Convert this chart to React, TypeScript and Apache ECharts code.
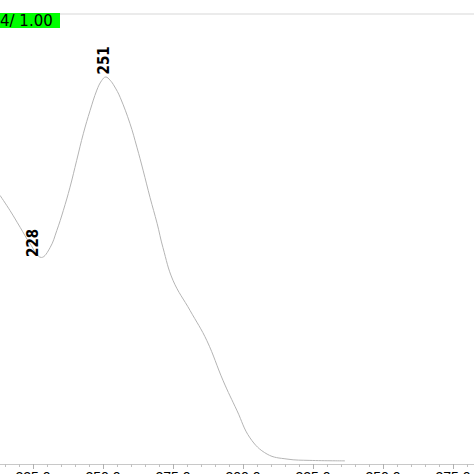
import { useEffect, useRef } from "react";
import * as echarts from "echarts";

// spectrum (nm / absorbance)
const wavelengths = [
  213.2, 216.8, 220.4, 223.9, 228.0, 231.1, 233.5, 235.8, 238.2, 240.6, 243.0,
  245.4, 247.8, 249.5, 251.0, 252.5, 254.0, 256.1, 259.6, 262.1, 264.3, 266.8,
  269.3, 271.4, 275.0, 281.1, 287.1, 292.9, 297.9, 302.5, 308.6, 315.7, 323.9,
  336.4,
];
const absorbance = [
  0.597, 0.563, 0.526, 0.49, 0.459, 0.481, 0.519, 0.563, 0.615, 0.675, 0.735,
  0.786, 0.831, 0.852, 0.86, 0.853, 0.84, 0.815, 0.757, 0.704, 0.653, 0.592,
  0.535, 0.481, 0.408, 0.341, 0.274, 0.185, 0.118, 0.058, 0.022, 0.011, 0.008,
  0.007,
];

const peakWavelengths = [251, 228];
const peakValues = [0.86, 0.459];

const majorTicks = [225, 250, 275, 300, 325, 350, 375];
const minorTicks = [
  215, 220, 230, 235, 240, 245, 255, 260, 265, 270, 280, 285, 290, 295, 305,
  310, 315, 320, 330, 335, 340, 345, 355, 360, 365, 370, 380,
];

const headerText = "4/ 1.00";

const App = () => {
  const containerRef = useRef<HTMLDivElement>(null);

  useEffect(() => {
    document.body.style.margin = "0";
    if (!containerRef.current) return;
    const chart = echarts.init(containerRef.current, undefined, { renderer: "svg" });

    // rotated peak labels (read bottom to top)
    const labelStyle = {
      show: true,
      rotate: 90,
      align: "left",
      verticalAlign: "middle",
      color: "#000",
      fontSize: 15,
      fontWeight: "bold",
      fontFamily: "'Liberation Sans Narrow', 'DejaVu Sans Condensed', sans-serif",
      formatter: (p: any) => String(p.name),
    };

    chart.setOption({
      animation: false,
      grid: { left: 0, right: 0, top: 14, bottom: 10, outerBoundsMode: "none", containLabel: false },
      xAxis: [
        {
          type: "value",
          min: 213.2,
          max: 382.5,
          axisLine: { show: true, lineStyle: { color: "#c8c8c8", width: 1 } },
          axisTick: { customValues: majorTicks, length: 5, lineStyle: { color: "#b0b0b0" } },
          axisLabel: {
            customValues: majorTicks,
            margin: 6,
            color: "#000",
            fontSize: 14,
            fontFamily: "'Liberation Sans', Arial, sans-serif",
            formatter: (v: number) => v.toFixed(1),
          },
          splitLine: { show: false },
        },
        {
          // minor ticks only
          type: "value",
          min: 213.2,
          max: 382.5,
          position: "bottom",
          axisLine: { show: false },
          axisTick: { customValues: minorTicks, length: 3, lineStyle: { color: "#c0c0c0" } },
          axisLabel: { show: false },
          splitLine: { show: false },
        },
      ],
      yAxis: { type: "value", min: 0, max: 1, show: false },
      graphic: [
        {
          type: "line",
          shape: { x1: 0, y1: 14, x2: 474, y2: 14 },
          style: { stroke: "#e4e4e4", lineWidth: 1.5 },
        },
        {
          type: "rect",
          shape: { x: 0, y: 13, width: 60, height: 15 },
          style: { fill: "#00ff00" },
        },
        {
          type: "text",
          x: 0,
          y: 21,
          style: {
            text: headerText,
            fill: "#000",
            fontSize: 15,
            fontFamily: "'DejaVu Sans', sans-serif",
            verticalAlign: "middle",
          },
        },
      ],
      series: [
        {
          type: "line",
          xAxisIndex: 0,
          data: wavelengths.map((w, i) => [w, absorbance[i]]),
          smooth: 0.4,
          symbol: "none",
          lineStyle: { color: "#b4b4b4", width: 1 },
          markPoint: {
            symbol: "circle",
            symbolSize: 1,
            itemStyle: { color: "transparent" },
            data: [
              {
                name: String(peakWavelengths[0]),
                coord: [peakWavelengths[0], peakValues[0]],
                label: { ...labelStyle, position: [-1, -2] },
              },
              {
                name: String(peakWavelengths[1]),
                coord: [peakWavelengths[1], peakValues[1]],
                label: { ...labelStyle, position: [-8, 0] },
              },
            ],
          },
        },
      ],
    });

    return () => chart.dispose();
  }, []);

  return <div ref={containerRef} style={{ width: 474, height: 474 }} />;
};

export default App;
